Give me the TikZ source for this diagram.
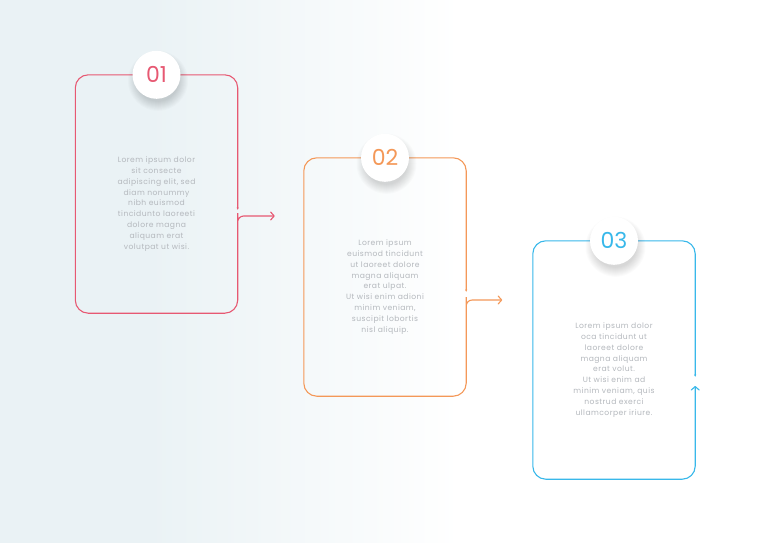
\documentclass[tikz,border=0pt]{standalone}
\usepackage{fontspec}
\setmainfont{Poppins}
\newfontfamily\lorfont{Poppins}[LetterSpace=6]
\usetikzlibrary{positioning,calc,arrows.meta}

\definecolor{stepred}{RGB}{231,88,114}
\definecolor{steporange}{RGB}{244,152,88}
\definecolor{stepblue}{RGB}{56,184,234}
\definecolor{txtgray}{RGB}{180,184,189}
\definecolor{bgblue}{RGB}{234,242,245}

\tikzset{
  card/.style={minimum width=162pt, minimum height=238pt, inner sep=0pt},
  badge/.style={circle, fill=white, minimum size=48pt, inner sep=0pt,
    font=\fontsize{22}{22}\selectfont},
  lorem/.style={text=txtgray, align=center, font=\lorfont\fontsize{7.6}{10.8}\selectfont},
  outline/.style={line width=1.1pt, rounded corners=13pt},
  chev/.tip={Straight Barb[length=3.5pt,width=8pt,round]},
  stub/.tip={Latex[length=2.5pt,width=2.5pt]},
}

\begin{document}
\begin{tikzpicture}[x=1pt,y=-1pt]

    % background
    \useasboundingbox (0,0) rectangle (768,543);
    \fill[bgblue] (0,0) rectangle (150,543);
    \shade[left color=bgblue, right color=white] (149.5,0) rectangle (460,543);
    \fill[white] (459.5,0) rectangle (768,543);

    % the three cards
    \foreach \n/\pos in {1/{156.5,194}, 2/{385,277}, 3/{614,360}} {
        \node[card] (box\n) at (\pos) {};
    }

    \coordinate (arr1) at ($(box1.east)+(37,22)$);
    \coordinate (arr2) at ($(box2.east)+(36,23)$);
    \coordinate (arr3) at ($(box3.east)+(0,26)$);

    % outlines, split on the right side
    \draw[outline, stepred, {stub}-{chev}] ($(box1.east)+(0,16)$) -- (box1.north east)
        -- (box1.north west) -- (box1.south west) -- (box1.south east)
        -- ($(box1.east)+(0,32)$) [rounded corners=6pt] -- ($(box1.east)+(0,22)$) -- (arr1);
    \draw[outline, steporange, {stub}-{chev}] ($(box2.east)+(0,15)$) -- (box2.north east)
        -- (box2.north west) -- (box2.south west) -- (box2.south east)
        -- ($(box2.east)+(0,33)$) [rounded corners=6pt] -- ($(box2.east)+(0,23)$) -- (arr2);
    \draw[outline, stepblue, {stub}-{chev}] ($(box3.east)+(0,17)$) -- (box3.north east)
        -- (box3.north west) -- (box3.south west) -- (box3.south east) -- (arr3);

    % soft shadows under the badges
    \foreach \n in {1,2,3} {
        \foreach \r in {21,...,30} {
            \fill[black, opacity=.016] ($(box\n.north)+(1.5,6)$) circle (\r);
        }
    }

    % number badges
    \foreach \n/\col in {1/stepred, 2/steporange, 3/stepblue} {
        \node[badge, text=\col] (num\n) at (box\n.north) {0\n};
    }

    % texts
    \node[lorem] (txt1) at ($(box1.center)+(0,10)$) {Lorem ipsum dolor\\ sit consecte\\
        adipiscing elit, sed\\ diam nonummy\\ nibh euismod\\ tincidunto laoreeti\\
        dolore magna\\ aliquam erat\\ volutpat ut wisi.};
    \node[lorem] (txt2) at ($(box2.center)+(0,10)$) {Lorem ipsum\\ euismod tincidunt\\
        ut laoreet dolore\\ magna aliquam\\ erat ulpat.\\ Ut wisi enim adioni\\
        minim veniam,\\ suscipit lobortis\\ nisl aliquip.};
    \node[lorem] (txt3) at ($(box3.center)+(0,10)$) {Lorem ipsum dolor\\ oca tincidunt ut\\
        laoreet dolore\\ magna aliquam\\ erat volut.\\ Ut wisi enim ad\\
        minim veniam, quis\\ nostrud exerci\\ ullamcorper iriure.};

\end{tikzpicture}
\end{document}
